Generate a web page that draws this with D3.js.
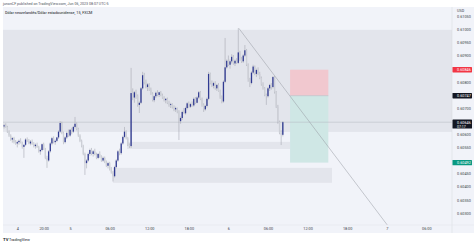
<!DOCTYPE html>
<html>
<head>
<meta charset="utf-8">
<script src="https://cdn.jsdelivr.net/npm/d3@7"></script>
<style>
  body { margin: 0; background: #fff; }
  svg { display: block; font-family: Roboto, "Liberation Sans", sans-serif; }
</style>
</head>
<body>
<svg id="chart" width="474" height="244"></svg>
<script>
// NZDUSD 15m, [open, high, low, close]; first row is bar -8 (Friday close), bar 0 = Sunday open
var firstBar = -8;
var candles = [
[0.60630,0.60640,0.60622,0.60634],[0.60634,0.60642,0.60625,0.60628],[0.60628,0.60632,0.60605,0.60610],[0.60610,0.60615,0.60590,0.60595],
[0.60595,0.60600,0.60575,0.60580],[0.60580,0.60590,0.60568,0.60585],[0.60585,0.60590,0.60565,0.60570],[0.60570,0.60578,0.60560,0.60565],
[0.60565,0.60575,0.60550,0.60570],[0.60570,0.60580,0.60560,0.60575],[0.60575,0.60585,0.60565,0.60568],[0.60568,0.60572,0.60545,0.60552],
[0.60552,0.60560,0.60510,0.60560],[0.60560,0.60585,0.60555,0.60580],[0.60580,0.60588,0.60570,0.60575],[0.60575,0.60582,0.60562,0.60565],
[0.60565,0.60578,0.60558,0.60572],[0.60572,0.60580,0.60560,0.60562],[0.60562,0.60570,0.60550,0.60555],[0.60555,0.60565,0.60545,0.60560],
[0.60560,0.60568,0.60548,0.60552],[0.60552,0.60556,0.60530,0.60535],[0.60535,0.60545,0.60522,0.60540],[0.60540,0.60565,0.60535,0.60562],
[0.60562,0.60568,0.60540,0.60545],[0.60545,0.60548,0.60505,0.60510],[0.60510,0.60518,0.60472,0.60500],[0.60500,0.60540,0.60495,0.60535],
[0.60535,0.60570,0.60530,0.60565],[0.60565,0.60590,0.60558,0.60585],[0.60585,0.60592,0.60565,0.60570],[0.60570,0.60580,0.60560,0.60575],
[0.60575,0.60590,0.60570,0.60588],[0.60588,0.60615,0.60582,0.60610],[0.60610,0.60650,0.60605,0.60643],[0.60643,0.60648,0.60600,0.60605],
[0.60605,0.60610,0.60562,0.60570],[0.60570,0.60592,0.60565,0.60588],[0.60588,0.60610,0.60582,0.60605],[0.60605,0.60618,0.60590,0.60595],
[0.60595,0.60620,0.60590,0.60617],[0.60617,0.60625,0.60600,0.60610],[0.60610,0.60632,0.60605,0.60628],[0.60628,0.60666,0.60622,0.60640],
[0.60640,0.60645,0.60615,0.60620],[0.60620,0.60625,0.60590,0.60595],[0.60595,0.60600,0.60570,0.60575],[0.60575,0.60580,0.60550,0.60555],
[0.60555,0.60560,0.60520,0.60525],[0.60525,0.60530,0.60445,0.60490],[0.60490,0.60505,0.60470,0.60500],[0.60500,0.60530,0.60495,0.60525],
[0.60525,0.60545,0.60518,0.60540],[0.60540,0.60548,0.60520,0.60525],[0.60525,0.60540,0.60515,0.60535],[0.60535,0.60545,0.60520,0.60522],
[0.60522,0.60530,0.60505,0.60510],[0.60510,0.60528,0.60505,0.60525],[0.60525,0.60535,0.60510,0.60515],[0.60515,0.60520,0.60495,0.60500],
[0.60500,0.60515,0.60495,0.60510],[0.60510,0.60515,0.60490,0.60495],[0.60495,0.60500,0.60475,0.60480],[0.60480,0.60495,0.60470,0.60490],
[0.60490,0.60495,0.60462,0.60465],[0.60465,0.60475,0.60450,0.60455],[0.60455,0.60460,0.60420,0.60440],[0.60440,0.60480,0.60435,0.60475],
[0.60475,0.60505,0.60470,0.60500],[0.60500,0.60540,0.60495,0.60535],[0.60535,0.60545,0.60520,0.60528],[0.60528,0.60570,0.60522,0.60565],
[0.60565,0.60595,0.60560,0.60590],[0.60590,0.60628,0.60585,0.60610],[0.60610,0.60615,0.60580,0.60585],[0.60585,0.60590,0.60555,0.60560],
[0.60560,0.60565,0.60548,0.60555],[0.60555,0.60853,0.60548,0.60757],[0.60757,0.60775,0.60730,0.60740],[0.60740,0.60765,0.60720,0.60760],
[0.60760,0.60770,0.60735,0.60745],[0.60745,0.60752,0.60705,0.60712],[0.60712,0.60725,0.60681,0.60720],[0.60720,0.60780,0.60715,0.60775],
[0.60775,0.60838,0.60770,0.60825],[0.60825,0.60834,0.60790,0.60800],[0.60800,0.60808,0.60775,0.60780],[0.60780,0.60795,0.60765,0.60790],
[0.60790,0.60795,0.60765,0.60770],[0.60770,0.60778,0.60750,0.60755],[0.60755,0.60760,0.60725,0.60730],[0.60730,0.60748,0.60722,0.60745],
[0.60745,0.60762,0.60738,0.60758],[0.60758,0.60768,0.60745,0.60750],[0.60750,0.60762,0.60742,0.60760],[0.60760,0.60765,0.60745,0.60748],
[0.60748,0.60755,0.60735,0.60740],[0.60740,0.60745,0.60725,0.60730],[0.60730,0.60738,0.60718,0.60735],[0.60735,0.60740,0.60715,0.60720],
[0.60720,0.60728,0.60705,0.60712],[0.60712,0.60720,0.60700,0.60715],[0.60715,0.60718,0.60698,0.60702],[0.60702,0.60710,0.60688,0.60695],
[0.60695,0.60705,0.60685,0.60700],[0.60700,0.60702,0.60680,0.60688],[0.60688,0.60692,0.60578,0.60650],[0.60650,0.60668,0.60640,0.60662],
[0.60662,0.60690,0.60655,0.60685],[0.60685,0.60700,0.60678,0.60680],[0.60680,0.60705,0.60675,0.60700],[0.60700,0.60722,0.60695,0.60718],
[0.60718,0.60725,0.60700,0.60705],[0.60705,0.60720,0.60700,0.60715],[0.60715,0.60725,0.60705,0.60710],[0.60710,0.60740,0.60705,0.60735],
[0.60735,0.60742,0.60715,0.60720],[0.60720,0.60745,0.60718,0.60740],[0.60740,0.60765,0.60735,0.60760],[0.60760,0.60765,0.60730,0.60735],
[0.60735,0.60740,0.60705,0.60712],[0.60712,0.60718,0.60685,0.60695],[0.60695,0.60712,0.60690,0.60708],[0.60708,0.60740,0.60702,0.60735],
[0.60735,0.60838,0.60730,0.60830],[0.60830,0.60835,0.60790,0.60795],[0.60795,0.60805,0.60780,0.60785],[0.60785,0.60800,0.60775,0.60795],
[0.60795,0.60802,0.60770,0.60775],[0.60775,0.60792,0.60765,0.60788],[0.60788,0.60795,0.60762,0.60765],[0.60765,0.60770,0.60735,0.60740],
[0.60740,0.60748,0.60718,0.60725],[0.60725,0.60805,0.60720,0.60800],[0.60800,0.60967,0.60795,0.60855],[0.60855,0.60885,0.60850,0.60880],
[0.60880,0.60900,0.60860,0.60865],[0.60865,0.60885,0.60850,0.60878],[0.60878,0.60905,0.60870,0.60895],[0.60895,0.60902,0.60865,0.60870],
[0.60870,0.60885,0.60860,0.60880],[0.60880,0.60890,0.60868,0.60872],[0.60872,0.61004,0.60868,0.60912],[0.60912,0.60918,0.60880,0.60885],
[0.60885,0.60895,0.60872,0.60878],[0.60878,0.60905,0.60872,0.60900],[0.60900,0.60940,0.60895,0.60920],[0.60920,0.60925,0.60860,0.60865],
[0.60865,0.60870,0.60800,0.60810],[0.60810,0.60815,0.60780,0.60795],[0.60795,0.60840,0.60790,0.60835],[0.60835,0.60865,0.60830,0.60858],
[0.60858,0.60862,0.60825,0.60830],[0.60830,0.60850,0.60818,0.60845],[0.60845,0.60855,0.60825,0.60830],[0.60830,0.60838,0.60810,0.60815],
[0.60815,0.60820,0.60785,0.60790],[0.60790,0.60798,0.60770,0.60775],[0.60775,0.60780,0.60745,0.60750],[0.60750,0.60755,0.60712,0.60745],
[0.60745,0.60780,0.60740,0.60775],[0.60775,0.60792,0.60765,0.60788],[0.60788,0.60795,0.60770,0.60780],[0.60780,0.60822,0.60775,0.60818],
[0.60818,0.60822,0.60755,0.60762],[0.60762,0.60765,0.60700,0.60705],[0.60705,0.60712,0.60640,0.60648],[0.60648,0.60652,0.60600,0.60605],
[0.60605,0.60615,0.60559,0.60598],[0.60598,0.60650,0.60592,0.60646]
];

// time axis: bar number of each label
var timeTickBars = [0, 16, 32, 56, 80, 104, 128, 152, 176, 200, 224, 248];
var timeTickLabels = ["4", "20:00", "5", "06:00", "12:00", "18:00", "6", "06:00", "12:00", "18:00", "7", "06:00"];

var priceTicks = [0.6030, 0.6035, 0.6040, 0.6045, 0.6055, 0.6060, 0.6070, 0.6080, 0.6090, 0.6095, 0.6100, 0.6105];

// drawn rectangles: [fromBar, toBar, topPrice, bottomPrice]
var zones = [
  [-9, 264, 0.60998, 0.60609],
  [66.5, 165.4, 0.60571, 0.60544],
  [58, 190.8, 0.60472, 0.60415]
];

// short position tool
var posBars = [165.4, 188.6];
var stopPrice = 0.60846, entryPrice = 0.60747, targetPrice = 0.60492;

// trend line [bar, price]
var trendLine = [[134.3, 0.61004], [224.5, 0.60253]];

var lastPrice = 0.60646, countdown = "07:17";
var priceBadges = [stopPrice, entryPrice, lastPrice, targetPrice];
var badgeColors = ["#f23645", "#131722", "#131722", "#089981"];

var svg = d3.select("#chart");
var W = 474, H = 244;
var plotLeft = 3, plotRight = 452, plotTop = 7, plotBottom = 225, axisBottom = 233;

var x = d3.scaleLinear().domain([0, 248]).range([17.3, 426.3]);
var y = d3.scaleLinear().domain([0.603, 0.610]).range([213, 29.3]);

svg.append("rect").attr("x", plotLeft).attr("y", plotTop)
    .attr("width", W - plotLeft).attr("height", axisBottom - plotTop).attr("fill", "#f1f3f9");

var clip = svg.append("clipPath").attr("id", "plot").append("rect")
    .attr("x", plotLeft).attr("y", plotTop).attr("width", plotRight - plotLeft).attr("height", plotBottom - plotTop);
var plot = svg.append("g").attr("clip-path", "url(#plot)");

plot.selectAll("rect.zone").data(zones).enter().append("rect")
    .attr("class", "zone")
    .attr("x", function(d) { return x(d[0]); })
    .attr("width", function(d) { return x(d[1]) - x(d[0]); })
    .attr("y", function(d) { return y(d[2]); })
    .attr("height", function(d) { return y(d[3]) - y(d[2]); })
    .attr("fill", "#e3e5ec");

// position boxes
plot.append("rect").attr("x", x(posBars[0])).attr("width", x(posBars[1]) - x(posBars[0]))
    .attr("y", y(stopPrice)).attr("height", y(entryPrice) - y(stopPrice)).attr("fill", "#f1c8cf");
plot.append("rect").attr("x", x(posBars[0])).attr("width", x(posBars[1]) - x(posBars[0]))
    .attr("y", y(entryPrice)).attr("height", y(targetPrice) - y(entryPrice)).attr("fill", "#cfe7e5");
plot.append("line").attr("x1", x(posBars[0])).attr("x2", x(posBars[1]))
    .attr("y1", y(entryPrice)).attr("y2", y(entryPrice)).attr("stroke", "#b4b7bf").attr("stroke-width", 0.5);

// last price line
plot.append("line").attr("x1", plotLeft).attr("x2", plotRight)
    .attr("y1", y(lastPrice)).attr("y2", y(lastPrice))
    .attr("stroke", "#b2b5be").attr("stroke-width", 0.5);

var bars = plot.selectAll("g.c").data(candles).enter().append("g").attr("class", "c");
bars.append("line")
    .attr("x1", function(d, i) { return x(firstBar + i); })
    .attr("x2", function(d, i) { return x(firstBar + i); })
    .attr("y1", function(d) { return y(d[1]); })
    .attr("y2", function(d) { return y(d[2]); })
    .attr("stroke", "#9a9da6").attr("stroke-width", 0.5);
bars.append("rect")
    .attr("x", function(d, i) { return x(firstBar + i) - 0.65; })
    .attr("width", 1.3)
    .attr("y", function(d) { return y(Math.max(d[0], d[3])); })
    .attr("height", function(d) { return Math.max(0.5, Math.abs(y(d[0]) - y(d[3]))); })
    .attr("fill", function(d) { return d[3] >= d[0] ? "#303a92" : "#cdd0d7"; });

plot.append("line")
    .attr("x1", x(trendLine[0][0])).attr("y1", y(trendLine[0][1]))
    .attr("x2", x(trendLine[1][0])).attr("y2", y(trendLine[1][1]))
    .attr("stroke", "#9598a1").attr("stroke-width", 0.5);

// axes
svg.append("line").attr("x1", plotRight).attr("x2", plotRight).attr("y1", plotTop).attr("y2", axisBottom)
    .attr("stroke", "#d6d8de").attr("stroke-width", 0.5);
svg.append("line").attr("x1", plotLeft).attr("x2", W).attr("y1", plotBottom).attr("y2", plotBottom)
    .attr("stroke", "#e0e3ea").attr("stroke-width", 0.5);

var yAxis = d3.axisRight(y).tickValues(priceTicks).tickFormat(d3.format(".5f")).tickSize(0).tickPadding(0);
var ya = svg.append("g").attr("transform", "translate(" + (plotRight + 5) + ",0)").call(yAxis);
ya.select(".domain").remove();
ya.selectAll("text").attr("font-size", 3.8).attr("fill", "#3b3e47").attr("font-family", "Roboto, sans-serif");
svg.append("text").attr("x", plotRight + 5).attr("y", 11.5).attr("font-size", 3.8).attr("fill", "#3b3e47").text("USD");

var xAxis = d3.axisBottom(x).tickValues(timeTickBars)
    .tickFormat(function(d, i) { return timeTickLabels[i]; }).tickSize(0).tickPadding(2.5);
var xa = svg.append("g").attr("transform", "translate(0," + plotBottom + ")").call(xAxis);
xa.select(".domain").remove();
xa.selectAll("text").attr("font-size", 3.8).attr("fill", "#3b3e47").attr("font-family", "Roboto, sans-serif");

var badges = svg.selectAll("g.badge").data(priceBadges).enter().append("g").attr("class", "badge")
    .attr("transform", function(d) { return "translate(" + (plotRight + 0.5) + "," + y(d) + ")"; });
badges.append("rect").attr("x", 0).attr("width", 19.5)
    .attr("y", -2.7).attr("height", function(d) { return d === lastPrice ? 9 : 5.4; })
    .attr("rx", 0.6)
    .attr("fill", function(d, i) { return badgeColors[i]; });
badges.append("text").attr("x", 4.5).attr("y", 1.4).attr("font-size", 3.8).attr("fill", "#fff")
    .text(function(d) { return d3.format(".5f")(d); });
badges.filter(function(d) { return d === lastPrice; }).append("text")
    .attr("x", 4.5).attr("y", 5.4).attr("font-size", 3.5).attr("fill", "#fff").text(countdown);

// header and footer text
svg.append("text").attr("x", 3).attr("y", 5).attr("font-size", 3.6).attr("fill", "#50535e")
    .text("junonCF published on TradingView.com, Jun 06, 2023 08:07 UTC-5");
svg.append("text").attr("x", 5).attr("y", 13.5).attr("font-size", 3.8).attr("fill", "#131722")
    .text("Dólar neozelandés/Dólar estadounidense, 15, FXCM");
svg.append("text").attr("x", 3).attr("y", 241).attr("font-size", 4.2).attr("font-weight", "bold").attr("fill", "#131722").text("TV");
svg.append("text").attr("x", 9).attr("y", 241).attr("font-size", 3.8).attr("fill", "#131722").text("TradingView");
</script>
</body>
</html>
